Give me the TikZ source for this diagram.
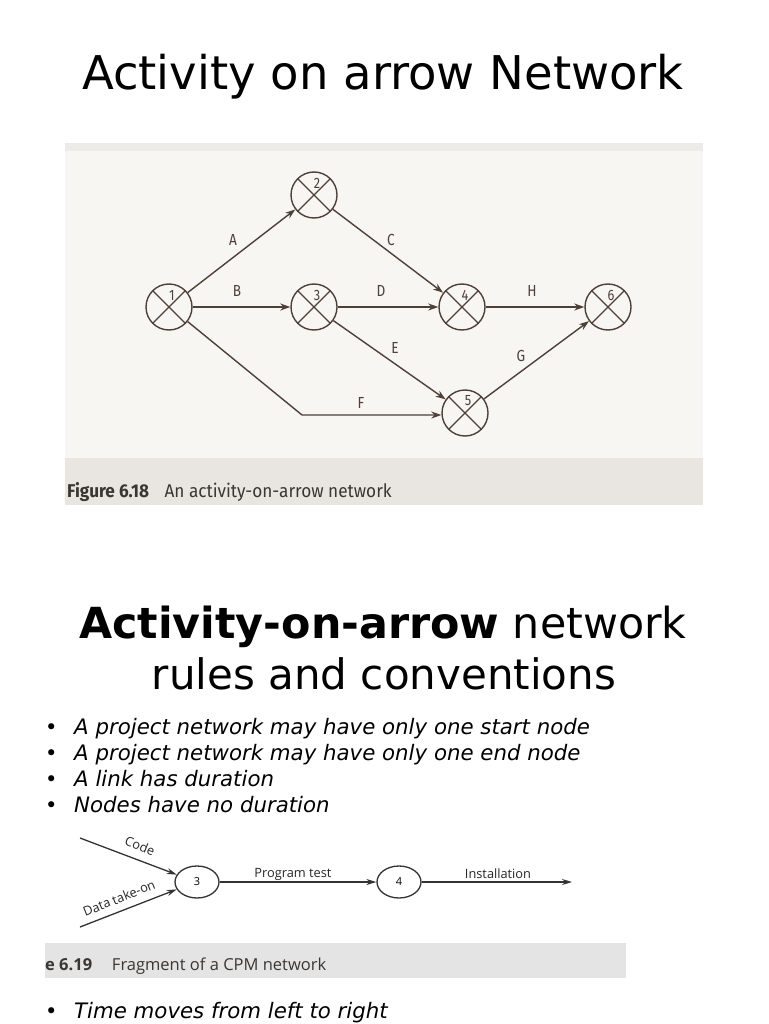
\documentclass[tikz,border=0pt]{standalone}
\usepackage{fontspec}
\setmainfont{DejaVu Sans}
\newfontfamily\figfont{Fira Sans}
\newfontfamily\capfont{Open Sans}
\usetikzlibrary{arrows.meta,calc,shapes.geometric}
\definecolor{ink}{HTML}{4E4038}
\definecolor{paper}{HTML}{F7F6F3}
\definecolor{band}{HTML}{E9E6E2}
\definecolor{capgrey}{HTML}{E4E4E4}
\definecolor{capink}{HTML}{3B3632}
\tikzset{
  xnode/.style={circle,draw=ink,line width=1.4pt,minimum size=46pt,inner sep=0pt,
    path picture={\draw[ink,line width=1.1pt]
      (path picture bounding box.north west)--(path picture bounding box.south east)
      (path picture bounding box.north east)--(path picture bounding box.south west);}},
  num/.style={font=\figfont\fontsize{15}{15}\selectfont,text=ink,inner sep=0pt,xscale=0.85},
  lab/.style={font=\figfont\fontsize{16}{16}\selectfont,text=ink,inner sep=0pt,xscale=0.85},
  arr/.style={draw=ink,line width=1.4pt,-{Stealth[length=10pt,width=7pt]}},
  enode/.style={ellipse,draw=black!80,line width=1.3pt,minimum width=44pt,minimum height=32pt,inner sep=0pt,
    font=\capfont\fontsize{11}{11}\selectfont},
  arr2/.style={draw=black!80,line width=1.3pt,-{Stealth[length=10pt,width=6pt]}},
  lab2/.style={font=\capfont\fontsize{12.8}{12.8}\selectfont,text=black!85,inner sep=0pt},
  bul/.style={anchor=base west,inner sep=0pt,font=\fontsize{21.3}{24}\selectfont\itshape},
  dot/.style={anchor=base west,inner sep=0pt,font=\fontsize{21}{24}\selectfont},
}
\begin{document}
\begin{tikzpicture}[x=1pt,y=-1pt]
\useasboundingbox[fill=white] (0,0) rectangle (768,1024);
% title
\node[anchor=base,inner sep=0pt,font=\fontsize{46.5}{50}\selectfont] (title) at (383,90) {Activity on arrow Network};
% figure 1 background
\fill[paper] (65,143) rectangle (703,505);
\fill[band!70!paper] (65,143) rectangle (703,151);
\fill[band] (65,458) rectangle (703,505);
\node[xnode] (n1) at (169,307) {};
\node[xnode] (n2) at (314,195) {};
\node[xnode] (n3) at (314,307) {};
\node[xnode] (n4) at (462,307) {};
\node[xnode] (n5) at (465,413) {};
\node[xnode] (n6) at (608,307) {};
\foreach \i in {1,...,6}{\node[num] (k\i) at ($(n\i)+(3,-12)$) {\i};}
\draw[arr] (n1) -- (n2);
\draw[arr] (n1) -- (n3);
\draw[arr] (n2) -- (n4);
\draw[arr] (n3) -- (n4);
\draw[arr] (n4) -- (n6);
\draw[arr] (n3) -- (n5);
\coordinate (fb) at (302,415);
\draw[arr] (n1.-38) -- (fb) -- (n5.west|-fb);
\draw[arr] (n5) -- (n6);
\node[lab] (lA) at (233,240) {A};
\node[lab] (lB) at (237,291) {B};
\node[lab] (lC) at (391,240) {C};
\node[lab] (lD) at (381,291) {D};
\node[lab] (lE) at (395,348) {E};
\node[lab] (lF) at (361,403) {F};
\node[lab] (lG) at (521,356) {G};
\node[lab] (lH) at (532,291) {H};
\node[anchor=base west,inner sep=0pt,text=capink,font=\figfont\fontsize{18.5}{18.5}\selectfont] (cap1) at (67,497)
  {\scalebox{0.93}[1]{\textbf{Figure 6.18}\hspace{0.9em}An activity-on-arrow network}};
% heading 2
\node[anchor=base,inner sep=0pt,font=\fontsize{42.8}{46}\selectfont] (h2a) at (383,638) {\textbf{Activity-on-arrow} network};
\node[anchor=base,inner sep=0pt,font=\fontsize{42}{46}\selectfont] (h2b) at (384,689) {rules and conventions};
% bullets
\foreach \t/\y [count=\j] in {A project network may have only one start node/734,
  A project network may have only one end node/760,
  A link has duration/786,
  Nodes have no duration/812,
  Time moves from left to right/1018}{
  \node[dot] (d\j) at (45,\y) {•};
  \node[bul] (b\j) at (74,\y) {\t};
}
% figure 2
\fill[capgrey] (45,943) rectangle (626,978);
\node[enode] (m3) at (197,882) {3};
\node[enode] (m4) at (399,882) {4};
\coordinate (cs) at (80,838);
\coordinate (ds) at (80,927);
\coordinate (ie) at (572,882);
\draw[arr2] (cs) -- (m3.160);
\draw[arr2] (ds) -- (m3.200);
\draw[arr2] (m3) -- (m4);
\draw[arr2] (m4) -- (ie);
\node[lab2,rotate=-22] (lc) at (140,846) {Code};
\node[lab2,rotate=22] (ld) at (119,898) {Data take-on};
\node[lab2] (lp) at (293,874) {Program test};
\node[lab2] (li) at (498,874) {Installation};
\node[anchor=base west,inner sep=0pt,text=capink,font=\capfont\fontsize{16.5}{16.5}\selectfont] (cap2) at (45,970)
  {\textbf{e 6.19}\hspace{1.2em}Fragment of a CPM network};
\end{tikzpicture}
\end{document}
